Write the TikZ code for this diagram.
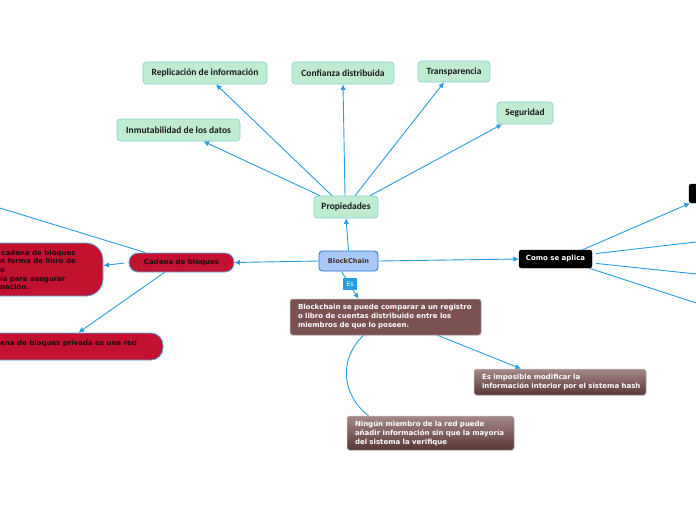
\documentclass[tikz,border=0pt]{standalone}
\usepackage{fontspec}
\usetikzlibrary{arrows.meta,shadows,calc}
\newfontfamily\vfont{DejaVu Sans}
\newfontfamily\cfont{Carlito}
\definecolor{lineblue}{HTML}{2A9DE0}
\definecolor{propfill}{HTML}{BFECD0}
\definecolor{propedge}{HTML}{86D3D6}
\definecolor{bcfill}{HTML}{A9C8F7}
\definecolor{bcedge}{HTML}{2A6FD6}
\definecolor{bctext}{HTML}{4A2E1A}
\definecolor{redfill}{HTML}{C21230}
\definecolor{redtext}{HTML}{1A0A0A}
\definecolor{browntop}{HTML}{A68888}
\definecolor{brownbot}{HTML}{5A3636}
\definecolor{browndesc}{HTML}{7B5151}
\tikzset{
  conn/.style={draw=lineblue, line width=0.9pt, -{Latex[length=5.5pt,width=5.5pt]}},
  plainconn/.style={draw=lineblue, line width=0.9pt},
  propbox/.style={draw=propedge, fill=propfill, line width=0.7pt, rounded corners=3.5pt,
    inner sep=0pt, font=\cfont\bfseries\fontsize{9.5}{11}\selectfont, text=black!90},
  bcbox/.style={draw=bcedge, fill=bcfill, line width=0.8pt, rounded corners=3.5pt,
    inner sep=0pt, font=\vfont\bfseries\fontsize{6.6}{8}\selectfont, text=bctext},
  redbox/.style={draw=lineblue!80, fill=redfill, line width=0.8pt,
    inner sep=0pt, font=\vfont\bfseries\fontsize{7}{9}\selectfont, text=redtext},
  blackbox/.style={draw=black, fill=black, rounded corners=2.5pt, inner sep=0pt,
    font=\vfont\bfseries\fontsize{7}{9}\selectfont, text=white},
  brownbox/.style={draw=black!25, line width=0.5pt, rounded corners=2.5pt, inner xsep=8pt, inner ysep=0pt,
    align=left, font=\vfont\bfseries\fontsize{7}{9}\selectfont, text=white,
    drop shadow={opacity=0.25, shadow xshift=0.6pt, shadow yshift=-1pt}},
  gradbox/.style={brownbox, top color=browntop, bottom color=brownbot},
  esbox/.style={fill=lineblue, inner sep=0pt, minimum width=14pt, minimum height=12pt,
    font=\vfont\fontsize{6.5}{8}\selectfont, text=white}
}
\begin{document}
\begin{tikzpicture}[x=1pt,y=-1pt]
\clip (0,0) rectangle (696,520);
\fill[white] (0,0) rectangle (696,520);

% main nodes
\node[bcbox, minimum width=59pt, minimum height=20pt] (bc) at (348.5,261) {BlockChain};
\node[propbox, minimum width=64pt, minimum height=22pt] (prop) at (346,207) {Propiedades};
\node[propbox, minimum width=123pt, minimum height=22pt] (inm) at (178.5,130) {Inmutabilidad de los datos};
\node[propbox, minimum width=124pt, minimum height=22pt] (rep) at (205,73) {Replicación de información};
\node[propbox, minimum width=102pt, minimum height=22pt] (conf) at (343,73) {Confianza distribuida};
\node[propbox, minimum width=72pt, minimum height=21pt] (trans) at (454,71.5) {Transparencia};
\node[propbox, minimum width=56pt, minimum height=22pt] (seg) at (525,113) {Seguridad};

\node[redbox, rounded corners=9pt, minimum width=105pt, minimum height=19pt] (cad) at (181.5,262.5) {Cadena de bloques};
\node[redbox, rounded corners=17pt, minimum width=163pt, minimum height=53pt] (bigred) at (21.5,269.5) {};
\node[anchor=west, align=left, inner sep=0pt, font=\vfont\bfseries\fontsize{7}{8.7}\selectfont, text=redtext] (bigtxt) at (0,269.8) {\,cadena de bloques\\n forma de libro de\\o\\ía para asegurar\\nación.};
\node[redbox, rounded corners=12pt, minimum width=223pt, minimum height=27pt] (botred) at (51.5,346.5) {};
\node[anchor=west, inner sep=0pt, font=\vfont\bfseries\fontsize{7}{9}\selectfont, text=redtext] (bottxt) at (0,343.5) {ena de bloques privada es una red};

\node[blackbox, minimum width=73pt, minimum height=18pt] (como) at (555.5,259) {Como se aplica};
\node[blackbox, minimum width=22pt, minimum height=19pt] (blk) at (700,193.5) {};

\node[brownbox, fill=browndesc, text width=175pt, minimum height=36pt] (desc) at (385.5,317) {\mbox{Blockchain se puede comparar a un registro}\\\mbox{o libro de cuentas distribuido entre los}\\\mbox{miembros de que lo poseen.}};
\node[gradbox, text width=156pt, minimum height=26pt] (imp) at (560,382) {\mbox{Es imposible modificar la}\\\mbox{información interior por el sistema hash}};
\node[gradbox, text width=151pt, minimum height=34pt] (nin) at (430.5,433) {\mbox{Ningún miembro de la red puede}\\\mbox{añadir información sin que la mayoría}\\\mbox{del sistema la verifique}};

% free ends
\coordinate (offL) at (-10,205);
\coordinate (offR1) at (700,241.5);
\coordinate (offR2) at (700,274.4);
\coordinate (offR3) at (700,304.2);

% connectors
\draw[conn] (bc.north) -- (prop.south);
\draw[conn] ([xshift=-26pt]prop.north) -- ([xshift=25pt]inm.south);
\draw[conn] ([xshift=-14pt]prop.north) -- ([xshift=11pt]rep.south);
\draw[conn] ([xshift=-1pt]prop.north) -- (conf.south);
\draw[conn] ([xshift=9pt]prop.north) -- ([xshift=-10pt]trans.south);
\draw[conn] ([xshift=24pt]prop.north) -- ([xshift=-23pt]seg.south);
\draw[conn] (bc.west) -- (cad.east);
\draw[conn] (bc.east) -- (como.west);
\draw[conn, shorten <=4pt] (cad.west) -- ([yshift=4pt]bigred.east);
\draw[conn] ([xshift=-17pt]cad.south) -- ([xshift=27pt]botred.north);
\draw[plainconn] ([xshift=-36pt]cad.north) -- (offL);
\draw[conn] ([xshift=27pt]como.north) -- ([xshift=-10pt]blk.south);
\draw[plainconn, shorten <=4pt] ([yshift=5pt]como.east) -- (offR1);
\draw[plainconn, shorten <=4pt] ([yshift=-4pt]como.east) -- (offR2);
\draw[plainconn] ([xshift=-3pt]como.south east) -- (offR3);
\draw[conn] ([xshift=-7pt]bc.south) -- ([xshift=-27pt]desc.north);
\node[esbox] (es) at (350,284) {Es};
\draw[conn] ([xshift=52pt]desc.south) -- ([xshift=-39pt]imp.north);
\draw[plainconn] ([xshift=-22pt]desc.south) .. controls (338,360) and (342,395) .. ([xshift=-62pt]nin.north);
\end{tikzpicture}
\end{document}
